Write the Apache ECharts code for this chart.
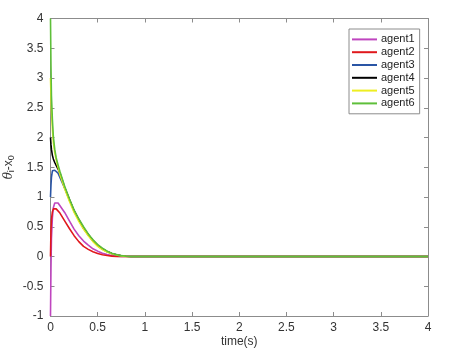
<!DOCTYPE html>
<html><head><meta charset="utf-8">
<script src="https://cdn.jsdelivr.net/npm/echarts@6/dist/echarts.min.js"></script>
<style>html,body{margin:0;padding:0;background:#fff}#c{width:474px;height:359px}</style>
</head><body><div id="c"></div>
<script>
const names = ['agent1','agent2','agent3','agent4','agent5','agent6'];
const colors = ['#BF45BF','#E0181C','#2A55A5','#000000','#EEEE22','#5EBF3A'];
const T = [0,0.005,0.01,0.02,0.03,0.045,0.06,0.08,0.1,0.15,0.2,0.25,0.3,0.35,0.4,0.45,0.5,0.55,0.6,0.65,0.7,0.75,0.8,0.85,0.9,4];
const agent1 = [-1,-0.2,0.3,0.65,0.82,0.9,0.92,0.9,0.87,0.74,0.6,0.46,0.35,0.26,0.19,0.13,0.09,0.055,0.032,0.016,0.006,0.001,0,0,0,0];
const agent2 = [0,0.45,0.62,0.75,0.8,0.82,0.8,0.77,0.73,0.6,0.47,0.35,0.25,0.17,0.12,0.08,0.05,0.03,0.016,0.007,0.002,0,0,0,0,0];
const agent3 = [1,1.2,1.33,1.44,1.46,1.45,1.43,1.4,1.37,1.15,0.95,0.76,0.61,0.47,0.36,0.26,0.18,0.12,0.08,0.05,0.027,0.011,0.003,0,0,0];
const agent4 = [2,1.88,1.8,1.7,1.64,1.58,1.53,1.47,1.4,1.16,0.96,0.77,0.62,0.48,0.37,0.27,0.19,0.13,0.085,0.052,0.028,0.012,0.003,0,0,0];
const agent5 = [3,2.7,2.45,2.15,1.92,1.75,1.63,1.5,1.38,1.14,0.93,0.74,0.59,0.46,0.35,0.25,0.17,0.115,0.075,0.045,0.024,0.01,0.002,0,0,0];
const agent6 = [4,3.2,2.7,2.3,2.02,1.8,1.66,1.54,1.43,1.18,0.97,0.78,0.63,0.5,0.38,0.28,0.2,0.14,0.09,0.056,0.031,0.014,0.004,0,0,0];
const values = [agent1,agent2,agent3,agent4,agent5,agent6];

const chart = echarts.init(document.getElementById('c'), null, {renderer:'canvas'});
const axisLine = {show:true, onZero:false, lineStyle:{color:'#8c8c8c', width:1}};
const font = 'Liberation Sans, Arial, sans-serif';
chart.setOption({
  animation:false,
  backgroundColor:'#fff',
  grid:{left:50.5, right:46, top:18.5, bottom:43, containLabel:false, outerBoundsMode:'none'},
  legend:{
    orient:'vertical', left:349, top:29, data:names,
    backgroundColor:'#fff', borderColor:'#8c8c8c', borderWidth:1,
    padding:[4,5,4,3], itemGap:0, itemWidth:25, itemHeight:2, icon:'rect',
    textStyle:{fontFamily:font, fontSize:11, color:'#222', lineHeight:12.8, padding:[0,0,0,-1]}
  },
  xAxis:[{
    type:'value', min:0, max:4, interval:0.5,
    axisLine, axisTick:{inside:true, length:4, lineStyle:{color:'#8c8c8c'}},
    splitLine:{show:false},
    axisLabel:{fontFamily:font, fontSize:12, color:'#333', margin:6},
    name:'time(s)', nameLocation:'middle', nameGap:20, nameMoveOverlap:false,
    nameTextStyle:{fontFamily:font, fontSize:12, color:'#333', verticalAlign:'top'}
  },{
    type:'value', min:0, max:4, interval:0.5, position:'top',
    axisLine, axisTick:{inside:true, length:4, lineStyle:{color:'#8c8c8c'}},
    axisLabel:{show:false}, splitLine:{show:false}
  }],
  yAxis:[{
    type:'value', min:-1, max:4, interval:0.5,
    axisLine, axisTick:{inside:true, length:4, lineStyle:{color:'#8c8c8c'}},
    splitLine:{show:false},
    axisLabel:{fontFamily:font, fontSize:12, color:'#333', margin:7},
    name:'{t|θ}{s|i}{a|-x}{s|0}', nameLocation:'middle', nameGap:34, nameMoveOverlap:false,
    nameTextStyle:{
      rich:{
        t:{fontFamily:'DejaVu Serif, serif', fontStyle:'italic', fontSize:12, color:'#333'},
        a:{fontFamily:font, fontSize:12, color:'#333'},
        s:{fontFamily:font, fontSize:9, color:'#333', padding:[7,0,0,0]}
      }
    }
  },{
    type:'value', min:-1, max:4, interval:0.5, position:'right',
    axisLine, axisTick:{inside:true, length:4, lineStyle:{color:'#8c8c8c'}},
    axisLabel:{show:false}, splitLine:{show:false}
  }],
  series: names.map((n,i)=>({
    name:n, type:'line', showSymbol:false, symbol:'none',
    color:colors[i],
    lineStyle:{width:1.6, color:colors[i]},
    data:T.map((t,j)=>[t, values[i][j]])
  }))
});
</script></body></html>
